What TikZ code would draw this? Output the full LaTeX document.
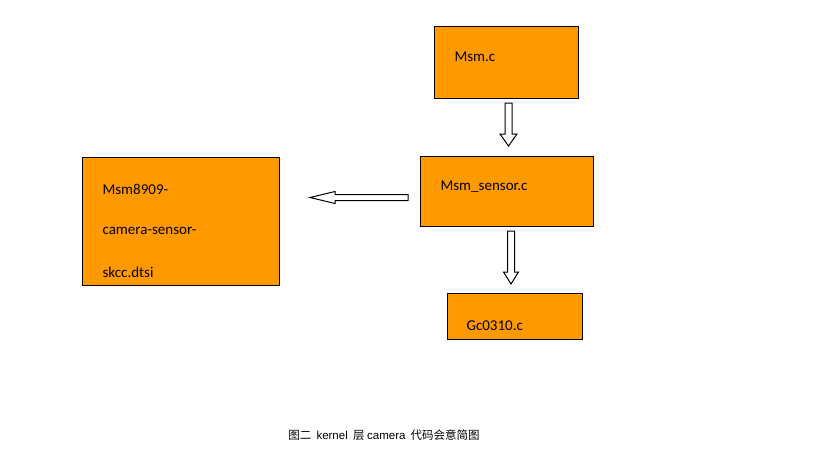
\documentclass[tikz,border=0pt]{standalone}
\usepackage{fontspec}
\setmainfont{Carlito}
\newfontfamily\cjk{Noto Sans CJK SC}
\newfontfamily\arialish{Liberation Sans}
\usetikzlibrary{calc}
\definecolor{boxorange}{RGB}{255,153,0}
\tikzset{
  box/.style={draw=black, line width=1.2pt, fill=boxorange, anchor=north west, inner sep=0pt},
  lbl/.style={anchor=west, font=\fontsize{15}{15}\selectfont},
  blockarrow/.style={draw=black, line width=1pt, fill=white, line join=miter}
}
\begin{document}
\begin{tikzpicture}[x=1pt,y=-1pt]
\useasboundingbox[fill=white] (0,0) rectangle (819,460);
% boxes
\node[box, minimum width=144pt, minimum height=72pt] (msm) at (434,26) {};
\node[box, minimum width=173pt, minimum height=70pt] (sensor) at (420,156) {};
\node[box, minimum width=197pt, minimum height=128pt] (dtsi) at (82,157) {};
\node[box, minimum width=135pt, minimum height=46pt] (gc) at (447,293) {};
% labels
\node[lbl] (tmsm) at (451,57) {Msm.c};
\node[lbl] (tsensor) at (437,187) {Msm\_sensor.c};
\node[lbl] (td1) at (99,189) {Msm8909-};
\node[lbl] (td2) at (99,231) {camera-sensor-};
\node[lbl] (td3) at (99,272) {skcc.dtsi};
\node[lbl] (tgc) at (463,326) {Gc0310.c};
% block arrows
\coordinate (a1) at (508.5,103);
\coordinate (b1) at (508.5,146);
\draw[blockarrow] ($(a1)+(-3.5,0)$) -- ($(a1)+(3.5,0)$) -- ($(b1)+(3.5,-12)$) -- ($(b1)+(8.5,-12)$)
  -- (b1) -- ($(b1)+(-8.5,-12)$) -- ($(b1)+(-3.5,-12)$) -- cycle;
\coordinate (a2) at (408,197.5);
\coordinate (b2) at (310,197.5);
\draw[blockarrow] ($(a2)+(0,-3)$) -- ($(a2)+(0,3)$) -- ($(b2)+(25,3)$) -- ($(b2)+(25,6)$)
  -- (b2) -- ($(b2)+(25,-6)$) -- ($(b2)+(25,-3)$) -- cycle;
\coordinate (a3) at (511,231);
\coordinate (b3) at (511,284);
\draw[blockarrow] ($(a3)+(-3.5,0)$) -- ($(a3)+(3.5,0)$) -- ($(b3)+(3.5,-12)$) -- ($(b3)+(7.5,-12)$)
  -- (b3) -- ($(b3)+(-7.5,-12)$) -- ($(b3)+(-3.5,-12)$) -- cycle;
% caption
\node[anchor=center, font=\fontsize{11.5}{12}\selectfont] (cap) at (384,435)
  {{\cjk 图二}\ \ {\arialish kernel}\ \ {\cjk 层}\ {\arialish camera}\ \ {\cjk 代码会意简图}};
\end{tikzpicture}
\end{document}
